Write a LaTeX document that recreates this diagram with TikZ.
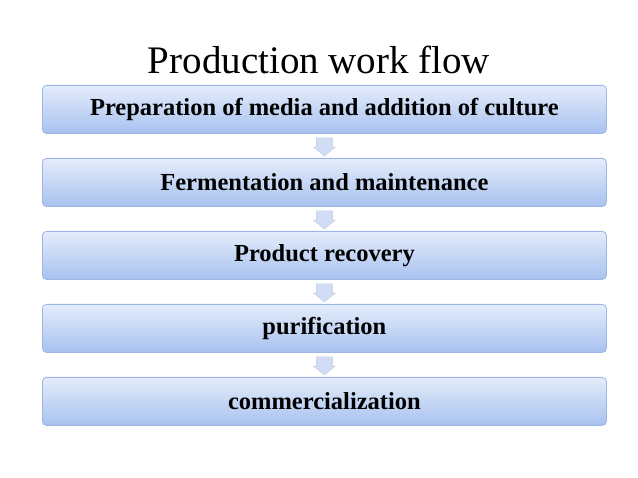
\documentclass[tikz,border=0pt]{standalone}
\usepackage{fontspec}
\setmainfont{Liberation Serif}
\definecolor{boxtop}{HTML}{E4ECFB}
\definecolor{boxbot}{HTML}{A8C2EF}
\definecolor{boxline}{HTML}{9DB6E6}
\definecolor{arr}{HTML}{D0DDF5}
\begin{document}
\begin{tikzpicture}[x=1pt,y=-1pt,
  stepbox/.style={draw=boxline,line width=0.8pt,rounded corners=4pt,top color=boxtop,bottom color=boxbot,minimum width=564pt,minimum height=48pt,font=\bfseries\fontsize{24.5}{28}\selectfont,anchor=north west,inner sep=0pt},
  flowarrow/.style={fill=arr,draw=arr!80!gray,line width=0.4pt}]
\useasboundingbox (0,0) rectangle (638,478);
\node[font=\fontsize{39}{44}\selectfont] (title) at (319,60) {Production work flow};
\node[stepbox] (b1) at (42,85) {Preparation of media and addition of culture};
\node[stepbox] (b2) at (42,158) {Fermentation and maintenance};
\node[stepbox] (b3) at (42,231) {Product recovery};
\node[stepbox] (b4) at (42,304) {purification};
\node[stepbox] (b5) at (42,377) {commercialization};
\foreach \a/\b in {b1/b2,b2/b3,b3/b4,b4/b5}{
  \path (\a.south) ++(0,4) coordinate (s);
  \path (\b.north) ++(0,-2) coordinate (t);
  \draw[flowarrow] ([xshift=-8]s) -- ([xshift=8]s) -- ([xshift=8,yshift=9]t) -- ([xshift=11,yshift=9]t) -- (t) -- ([xshift=-11,yshift=9]t) -- ([xshift=-8,yshift=9]t) -- cycle;
}
\end{tikzpicture}
\end{document}
